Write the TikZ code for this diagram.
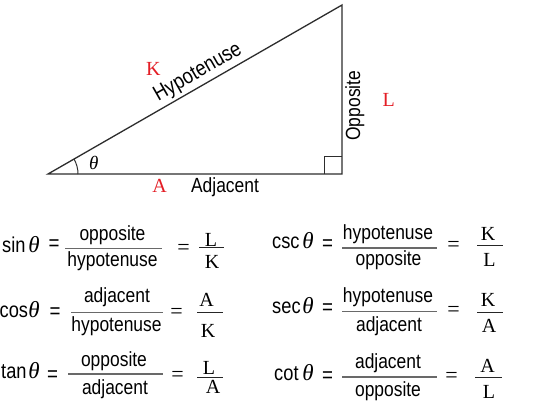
\documentclass[tikz,border=0pt]{standalone}
\usepackage{fontspec}
\newfontfamily\sansn{Liberation Sans}[FakeStretch=0.85]
\newfontfamily\serifr{Liberation Serif}
\definecolor{lbl}{RGB}{228,30,38}
\definecolor{edgec}{RGB}{45,45,45}
\definecolor{barc}{RGB}{105,105,105}
\tikzset{
  word/.style={inner sep=0pt, font=\sansn\fontsize{20.5}{22}\selectfont},
  fn/.style={inner sep=0pt, anchor=base west, font=\sansn\fontsize{21.5}{24}\selectfont},
  th/.style={inner sep=0pt, anchor=base, font=\serifr\itshape\fontsize{23}{26}\selectfont},
  seq/.style={inner sep=0pt, font=\sansn\fontsize{22}{24}\selectfont},
  req/.style={inner sep=0pt, font=\serifr\fontsize{22}{24}\selectfont},
  serl/.style={inner sep=0pt, font=\serifr\fontsize{20}{22}\selectfont},
  redlbl/.style={serl, text=lbl},
  fbar/.style={draw=barc, line width=1.2pt},
  lbar/.style={draw=black!85, line width=0.9pt},
  side/.style={draw=edgec, line width=1.3pt},
  thin side/.style={draw=edgec, line width=1pt},
}
\begin{document}
\begin{tikzpicture}[x=1pt,y=-1pt]
\useasboundingbox[fill=white] (0,0) rectangle (533,413);
% triangle
\coordinate (A) at (48,174);
\coordinate (B) at (342,174);
\coordinate (C) at (342,5);
\draw[side, line join=miter] (A) -- (B) -- (C) -- cycle;
\coordinate (r1) at (324,174);
\coordinate (r2) at (324,156);
\coordinate (r3) at (342,156);
\draw[thin side] (r1) -- (r2) -- (r3);
\coordinate (a0) at (78,174);
\draw[thin side] (a0) arc[start angle=0, end angle=-29.9, radius=30];
\node[inner sep=0pt, font=\serifr\itshape\fontsize{19}{21}\selectfont] (tht) at (93.7,163.3) {θ};
\node[word, font=\sansn\fontsize{21.5}{23}\selectfont, rotate=29.9] (hyp) at (198,73) {Hypotenuse};
\node[word, rotate=90] (opp) at (354.7,105.7) {Opposite};
\node[word] (adj) at (225,187.5) {Adjacent};
\node[redlbl] (K) at (153.3,68.8) {K};
\node[redlbl] (L) at (388.8,100) {L};
\node[redlbl] (Aa) at (159.5,186.3) {A};

% ---------- left column ----------
% sin
\node[fn] (sin) at (2,252) {sin};
\node[th] (th1) at (34,252) {θ};
\node[seq] (e1a) at (54,245) {=};
\coordinate (b1l) at (65,248.3); \coordinate (b1r) at (162,248.3);
\draw[fbar] (b1l) -- (b1r);
\node[word] (n1) at (112.5,235) {opposite};
\node[word] (d1) at (112.5,261) {hypotenuse};
\node[req] (e1b) at (183.5,249) {=};
\coordinate (c1l) at (199,247.3); \coordinate (c1r) at (224,247.3);
\draw[lbar] (c1l) -- (c1r);
\node[serl] (ln1) at (211,240) {L};
\node[serl] (ld1) at (212,262) {K};
% cos
\node[fn] (cos) at (-0.5,317) {cos};
\node[th] (th2) at (34,317) {θ};
\node[seq] (e2a) at (55,313) {=};
\coordinate (b2l) at (71,312.3); \coordinate (b2r) at (163,312.3);
\draw[fbar] (b2l) -- (b2r);
\node[word] (n2) at (117,297) {adjacent};
\node[word] (d2) at (116.5,326) {hypotenuse};
\node[req] (e2b) at (176.5,313) {=};
\coordinate (c2l) at (197,312); \coordinate (c2r) at (223,312);
\draw[lbar] (c2l) -- (c2r);
\node[serl] (ln2) at (206.5,300) {A};
\node[serl] (ld2) at (208,331) {K};
% tan
\node[fn] (tan) at (1,378) {tan};
\node[th] (th3) at (34,378) {θ};
\node[seq] (e3a) at (52.5,376) {=};
\coordinate (b3l) at (68,374); \coordinate (b3r) at (163,374);
\draw[fbar] (b3l) -- (b3r);
\node[word] (n3) at (114,361) {opposite};
\node[word] (d3) at (115,389) {adjacent};
\node[req] (e3b) at (177.5,376.7) {=};
\coordinate (c3l) at (197,377); \coordinate (c3r) at (223,377);
\draw[lbar] (c3l) -- (c3r);
\node[serl] (ln3) at (209,368) {L};
\node[serl] (ld3) at (213,387) {A};

% ---------- right column ----------
% csc
\node[fn] (csc) at (272,248) {csc};
\node[th] (th4) at (308,248) {θ};
\node[seq] (e4a) at (327.5,245) {=};
\coordinate (b4l) at (342,248); \coordinate (b4r) at (437,248);
\draw[fbar] (b4l) -- (b4r);
\node[word] (n4) at (388,234) {hypotenuse};
\node[word] (d4) at (388.5,260) {opposite};
\node[req] (e4b) at (453.5,246) {=};
\coordinate (c4l) at (477,245); \coordinate (c4r) at (503,245);
\draw[lbar] (c4l) -- (c4r);
\node[serl] (ln4) at (488,233.5) {K};
\node[serl] (ld4) at (489.5,260) {L};
% sec
\node[fn] (sec) at (272,313) {sec};
\node[th] (th5) at (308,313) {θ};
\node[seq] (e5a) at (327.5,309) {=};
\coordinate (b5l) at (342,311.7); \coordinate (b5r) at (437,311.7);
\draw[fbar] (b5l) -- (b5r);
\node[word] (n5) at (388,297) {hypotenuse};
\node[word] (d5) at (389,326) {adjacent};
\node[req] (e5b) at (453.5,311.7) {=};
\coordinate (c5l) at (477,312); \coordinate (c5r) at (503,312);
\draw[lbar] (c5l) -- (c5r);
\node[serl] (ln5) at (488,300) {K};
\node[serl] (ld5) at (489,326) {A};
% cot
\node[fn] (cot) at (274,380) {cot};
\node[th] (th6) at (308,380) {θ};
\node[seq] (e6a) at (327.5,377) {=};
\coordinate (b6l) at (342,377); \coordinate (b6r) at (437,377);
\draw[fbar] (b6l) -- (b6r);
\node[word] (n6) at (388,363) {adjacent};
\node[word] (d6) at (388,391) {opposite};
\node[req] (e6b) at (451.5,377) {=};
\coordinate (c6l) at (475,377); \coordinate (c6r) at (502,377);
\draw[lbar] (c6l) -- (c6r);
\node[serl] (ln6) at (487.5,366) {A};
\node[serl] (ld6) at (489,392) {L};
\end{tikzpicture}
\end{document}
